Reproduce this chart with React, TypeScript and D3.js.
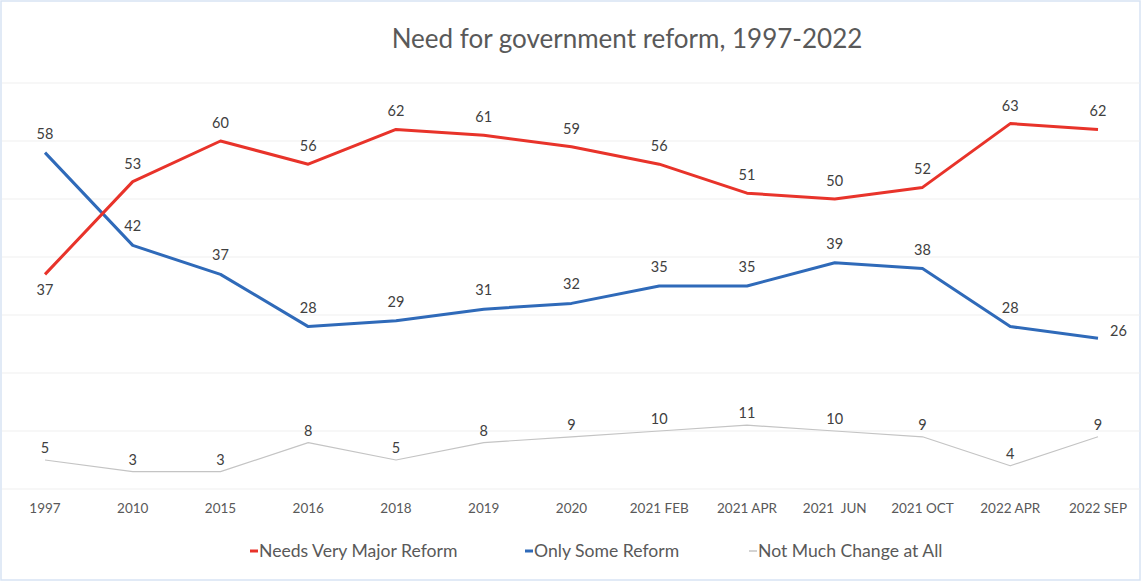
import { useEffect, useRef } from "react";
import * as d3 from "d3";

const categories = [
  "1997", "2010", "2015", "2016", "2018", "2019", "2020",
  "2021 FEB", "2021 APR", "2021  JUN", "2021 OCT", "2022 APR", "2022 SEP",
];
const majorReform = [37, 53, 60, 56, 62, 61, 59, 56, 51, 50, 52, 63, 62];
const someReform = [58, 42, 37, 28, 29, 31, 32, 35, 35, 39, 38, 28, 26];
const noChange = [5, 3, 3, 8, 5, 8, 9, 10, 11, 10, 9, 4, 9];
const yTicks = [0, 10, 20, 30, 40, 50, 60, 70];

const seriesNames = ["Needs Very Major Reform", "Only Some Reform", "Not Much Change at All"];

const W = 1143;
const H = 582;
const FONT = "Lato, 'Open Sans', sans-serif";

export default function App() {
  const svgRef = useRef<SVGSVGElement>(null);

  useEffect(() => {
    if (!svgRef.current) return;
    const svg = d3.select(svgRef.current);
    svg.selectAll("*").remove();

    const x = d3.scalePoint<string>().domain(categories).range([45, 1098]);
    const y = d3.scaleLinear().domain([0, 70]).range([489, 83]);

    // background + border
    svg.append("rect")
      .attr("x", 1).attr("y", 1)
      .attr("width", 1139).attr("height", 579)
      .attr("fill", "#fff")
      .attr("stroke", "#d7e3f4")
      .attr("stroke-width", 1.5);

    // title
    svg.append("text")
      .attr("x", 627).attr("y", 48)
      .attr("text-anchor", "middle")
      .attr("font-family", FONT)
      .attr("font-size", 26)
      .attr("fill", "#595959")
      .text("Need for government reform, 1997-2022");

    // grid lines
    svg.append("g")
      .selectAll("line")
      .data(yTicks)
      .join("line")
      .attr("x1", 2).attr("x2", 1140)
      .attr("y1", (d) => y(d)).attr("y2", (d) => y(d))
      .attr("stroke", "#efefef")
      .attr("stroke-width", 1);

    // x axis labels
    svg.append("g")
      .selectAll("text")
      .data(categories)
      .join("text")
      .attr("x", (d) => x(d) || 0)
      .attr("y", 513)
      .attr("text-anchor", "middle")
      .attr("font-family", FONT)
      .attr("font-size", 13.5)
      .attr("fill", "#595959")
      .style("white-space", "pre")
      .text((d) => d);

    const series = [
      { values: majorReform, color: "#e8332a", width: 3, dy: -13, special: { 0: "below" } as Record<number, string> },
      { values: someReform, color: "#2f6ab9", width: 3, dy: -14, special: { 12: "right" } as Record<number, string> },
      { values: noChange, color: "#c4c4c4", width: 1.2, dy: -7, special: {} as Record<number, string> },
    ];

    const line = d3.line<number>()
      .x((_, i) => x(categories[i]) || 0)
      .y((d) => y(d));

    // draw bottom series first
    [...series].reverse().forEach((s) => {
      svg.append("path")
        .datum(s.values)
        .attr("fill", "none")
        .attr("stroke", s.color)
        .attr("stroke-width", s.width)
        .attr("stroke-linejoin", "round")
        .attr("d", line);
    });

    series.forEach((s) => {
      svg.append("g")
        .selectAll("text")
        .data(s.values)
        .join("text")
        .attr("x", (d, i) => {
          const px = x(categories[i]) || 0;
          return s.special[i] === "right" ? px + 12 : px;
        })
        .attr("y", (d, i) => {
          const py = y(d);
          if (s.special[i] === "below") return py + 21;
          if (s.special[i] === "right") return py - 2;
          return py + s.dy;
        })
        .attr("text-anchor", (d, i) => (s.special[i] === "right" ? "start" : "middle"))
        .attr("font-family", FONT)
        .attr("font-size", 14.5)
        .attr("fill", "#404040")
        .text((d) => d);
    });

    // legend
    const legendX = [259, 534, 758];
    const legend = svg.append("g");
    series.forEach((s, i) => {
      legend.append("line")
        .attr("x1", legendX[i] - 9).attr("x2", legendX[i] - 1)
        .attr("y1", 551).attr("y2", 551)
        .attr("stroke", s.color)
        .attr("stroke-width", i === 2 ? 1.5 : 3);
      legend.append("text")
        .attr("x", legendX[i])
        .attr("y", 557)
        .attr("font-family", FONT)
        .attr("font-size", 17.6)
        .attr("fill", "#595959")
        .text(seriesNames[i]);
    });
  }, []);

  return (
    <svg
      ref={svgRef}
      width={W}
      height={H}
      style={{ position: "absolute", left: 0, top: 0, display: "block" }}
    />
  );
}
